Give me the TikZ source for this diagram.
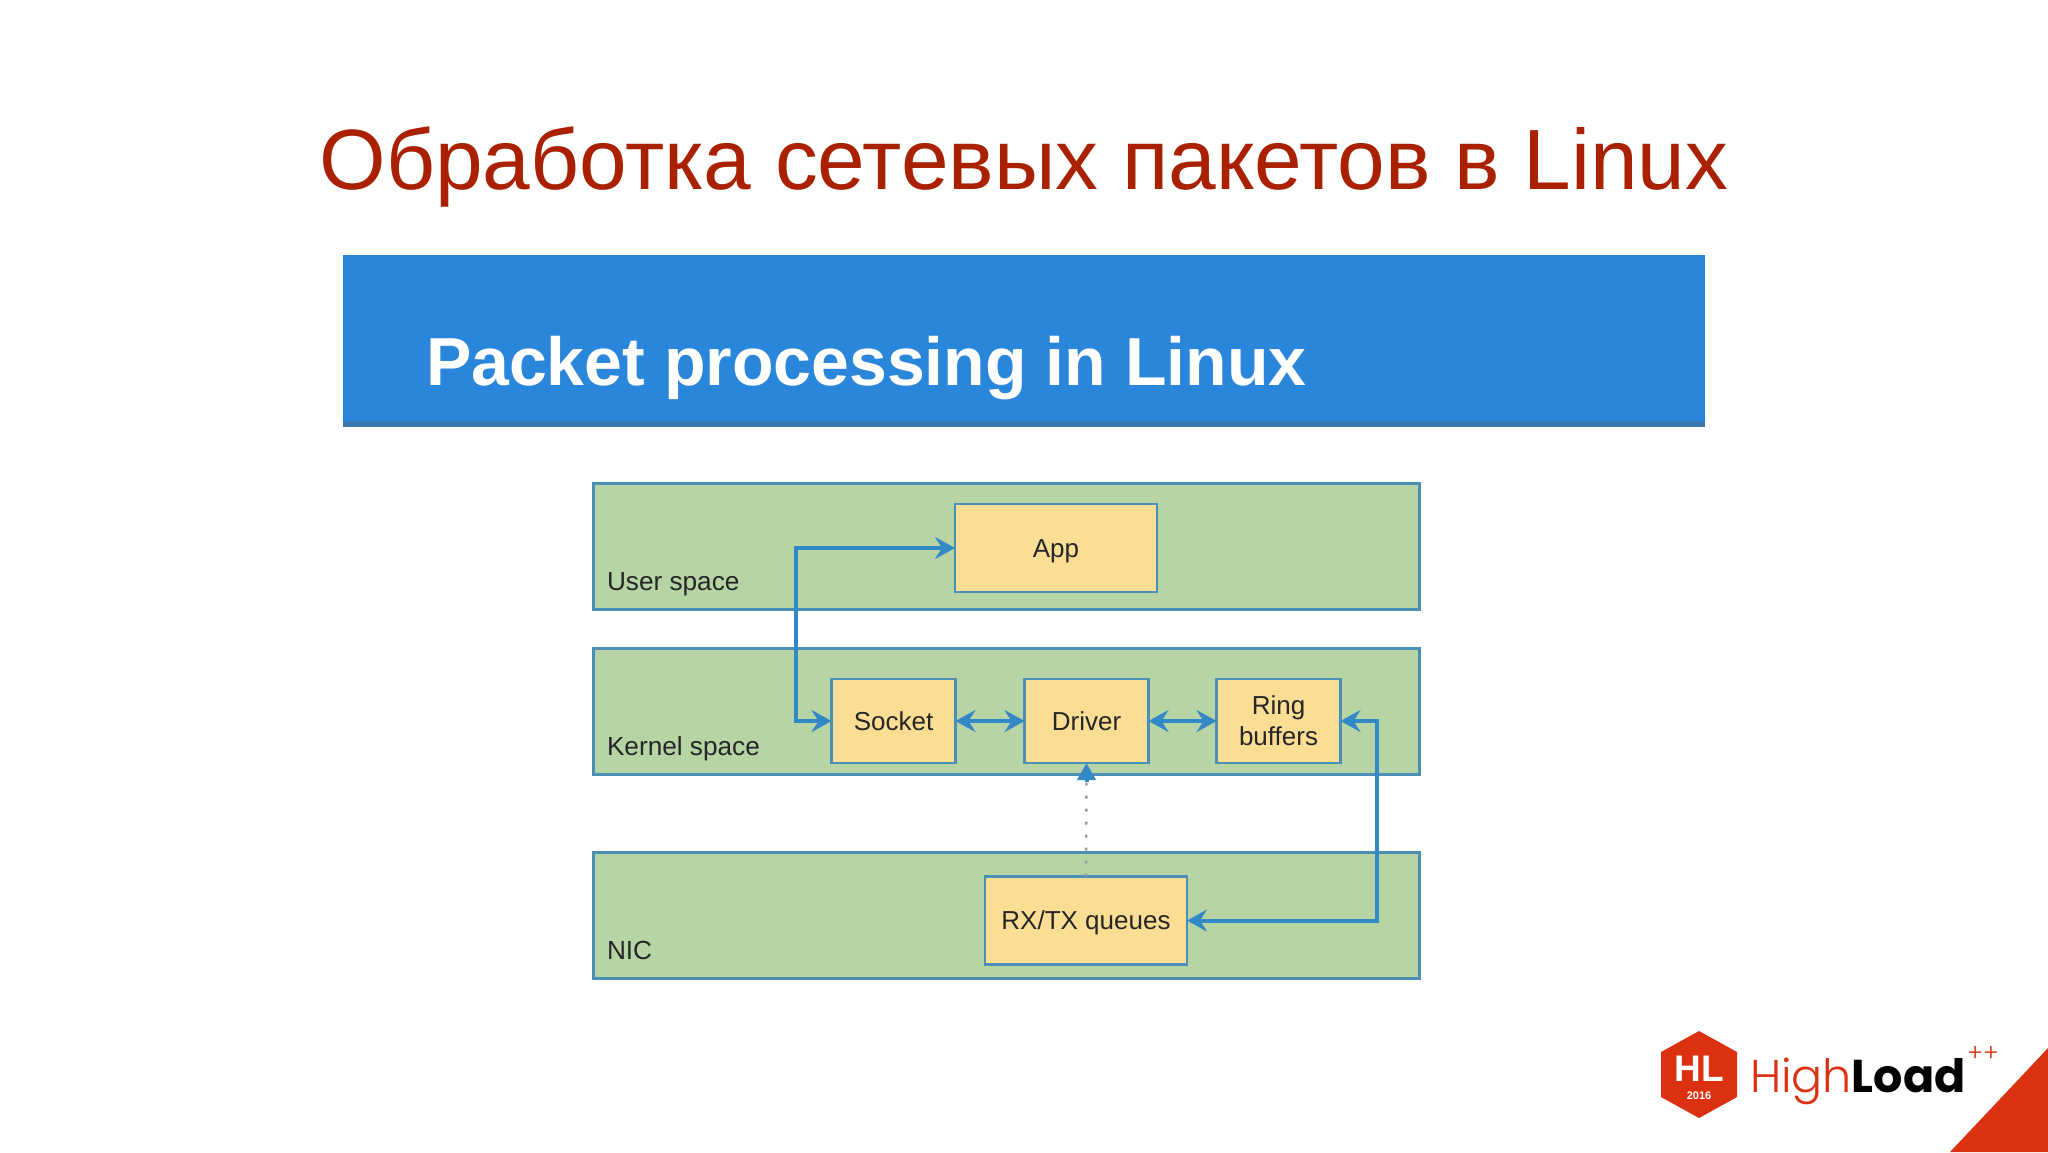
\documentclass[tikz,border=0pt]{standalone}
\usepackage{fontspec}
\setmainfont{Liberation Sans}
\newfontfamily\logothin{Poppins Light}
\newfontfamily\logobold{Poppins}
\definecolor{titlered}{HTML}{A92100}
\definecolor{logored}{HTML}{DB3110}
\definecolor{bannerblue}{HTML}{2A86DB}
\definecolor{bannerdark}{HTML}{3A78B0}
\definecolor{panelgreen}{HTML}{B7D4A5}
\definecolor{boxyellow}{HTML}{FBDD93}
\definecolor{edgeblue}{HTML}{4A8FB5}
\definecolor{flowblue}{HTML}{3388C6}
\usetikzlibrary{arrows.meta}
\begin{document}
\begin{tikzpicture}[x=0.5pt,y=-0.5pt,inner sep=0pt,outer sep=0pt,
            panel node/.style={rectangle,draw=edgeblue,line width=1.5pt,fill=panelgreen,minimum width=413pt,minimum height=63pt},
            box node/.style={rectangle,draw=edgeblue,line width=1.3pt,fill=boxyellow,align=center,font=\fontsize{13}{15.5}\selectfont,text=black!85,minimum height=42pt},
            small box/.style={box node,minimum width=62pt},
            wide box/.style={box node,minimum width=101pt,minimum height=44pt,text height=9.4pt,text depth=0pt},
            space label/.style={anchor=base west,font=\fontsize{13.1}{15.5}\selectfont,text=black!85},
            flow/.style={draw=flowblue,line width=2pt,{Stealth[length=10pt,width=11pt,inset=3.5pt]}-{Stealth[length=10pt,width=11pt,inset=3.5pt]}},
            flow to/.style={draw=flowblue,line width=2pt,-{Stealth[length=8.5pt,width=9pt,inset=0pt]}}]

        \useasboundingbox[fill=white] (0,0) rectangle (2048,1152);

        % Define title and banner
        \node[anchor=base] (title) at (1024,189) {\fontsize{42.8}{45}\selectfont\color{titlered}Обработка сетевых пакетов в Linux};
        \node[rectangle,fill=bannerblue,minimum width=681pt,minimum height=86pt] (banner) at (1024,341) {};
        \fill[bannerdark] (banner.south west) rectangle ([yshift=3pt]banner.south east);
        \node[anchor=base west,text=white,font=\fontsize{34}{36}\bfseries\selectfont] (bannertext) at (426,385) {Packet processing in Linux};

        % Define panels
        \node[panel node] (user) at (1006,546.5) {};
        \node[panel node] (kernel) at (1006,711.5) {};
        \node[panel node] (nic) at (1006,915.5) {};
        \node[space label] (userlabel) at (607,590) {User space};
        \node[space label] (kernellabel) at (607,755) {Kernel space};
        \node[space label] (niclabel) at (607,959) {NIC};

        % Define boxes
        \node[wide box] (app) at (1056,548) {App};
        \node[small box] (socket) at (893.5,721) {Socket};
        \node[small box] (driver) at (1086.5,721) {Driver};
        \node[small box] (ring) at (1278.5,721) {Ring\\buffers};
        \node[wide box] (rx) at (1086,920.5) {RX/TX queues};

        % Draw edges
        \coordinate (dotend) at (1086.5,782);
        \draw[flow] (socket.west) -- ++(-36,0) |- (app.west);
        \draw[flow] (socket.east) -- (driver.west);
        \draw[flow] (driver.east) -- (ring.west);
        \draw[flow] (ring.east) -- ++(36,0) |- (rx.east);
        \draw[gray!80,line width=1.2pt,dash pattern=on 1.5pt off 5pt] (rx.north) -- (dotend);
        \draw[flow to] (dotend) -- (driver.south);

        % Define logo
        \fill[logored] (1950,1152) -- (2048,1048) -- (2048,1152) -- cycle;
        \fill[logored] (1699,1031) -- (1737,1052) -- (1737,1097) -- (1699,1118) -- (1661,1097) -- (1661,1052) -- cycle;
        \node[text=white,font=\fontsize{18.5}{20}\bfseries\selectfont] (hl) at (1699,1069) {HL};
        \node[text=white,font=\fontsize{5.5}{7}\bfseries\selectfont] (year) at (1699,1096) {2016};
        \node[anchor=base west] (highload) at (1750,1092) {\fontsize{23}{25}\selectfont\logothin\color{logored}High\logobold\bfseries\color{black}Load};
        \node[text=logored,font=\fontsize{12}{14}\logothin\selectfont] (plus) at (1983,1054) {++};

\end{tikzpicture}
\end{document}
